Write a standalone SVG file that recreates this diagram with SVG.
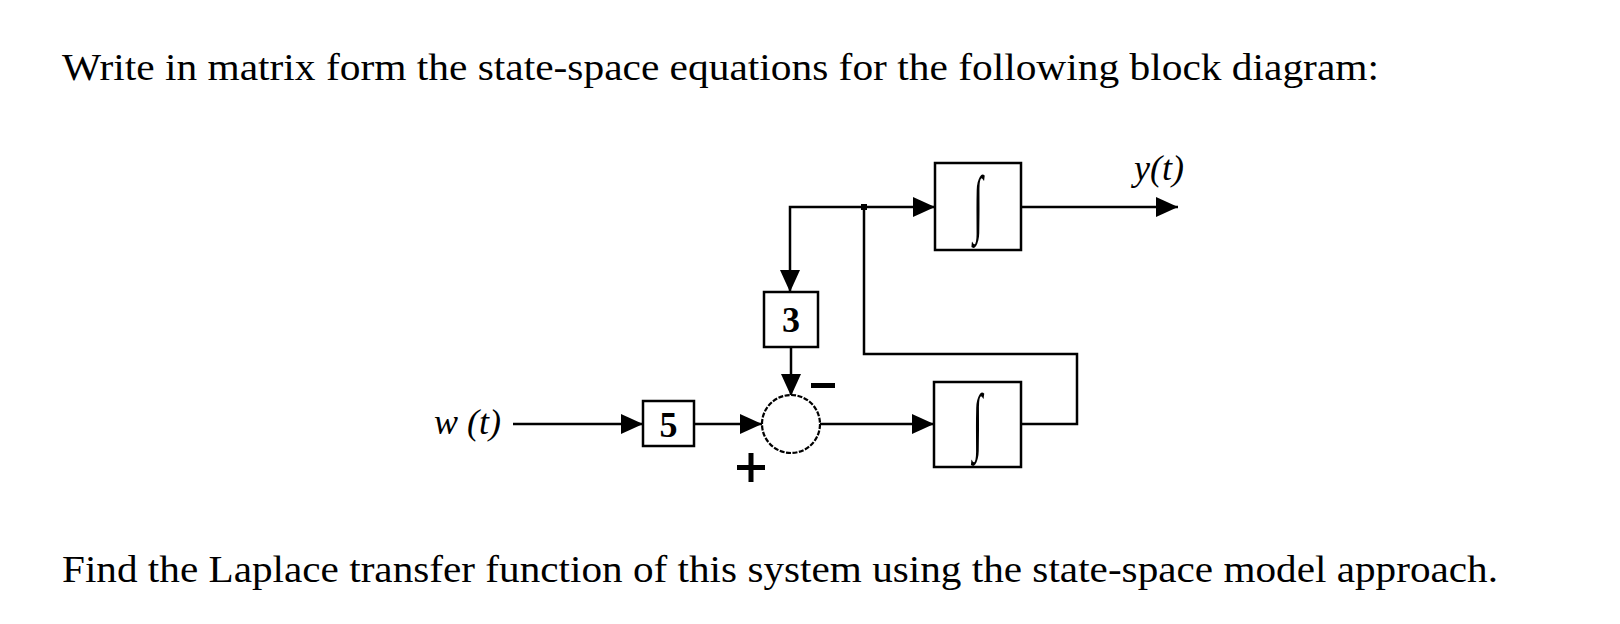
<svg xmlns="http://www.w3.org/2000/svg" width="1620" height="624" viewBox="0 0 1620 624">
<style>
.t{font-family:"Liberation Serif",serif;fill:#000}
.box{fill:#fff;stroke:#000;stroke-width:2.5}
.w{fill:none;stroke:#000;stroke-width:2.5}
.g{font-family:"Liberation Serif",serif;font-weight:bold;font-size:36px;text-anchor:middle}
.i{font-family:"Liberation Serif",serif;font-size:44px;text-anchor:middle}
</style>
<defs>
<marker id="a" markerWidth="22" markerHeight="22" refX="22" refY="11" orient="auto" markerUnits="userSpaceOnUse">
<path d="M0,1 L22,11 L0,21 Z" fill="#000"/>
</marker>
</defs>
<rect width="1620" height="624" fill="#fff"/>
<text class="t" x="62" y="80" font-size="37" textLength="1317" lengthAdjust="spacingAndGlyphs">Write in matrix form the state-space equations for the following block diagram:</text>
<text class="t" x="62" y="582" font-size="37" textLength="1436" lengthAdjust="spacingAndGlyphs">Find the Laplace transfer function of this system using the state-space model approach.</text>
<g id="connectors">
<path class="w" d="M513,424 H643" marker-end="url(#a)"/>
<path class="w" d="M694,424 H762" marker-end="url(#a)"/>
<path class="w" d="M820,424 H934" marker-end="url(#a)"/>
<path class="w" d="M1021,424 H1077 V354 H864 V207"/>
<path class="w" d="M864,207 H790 V292" marker-end="url(#a)"/>
<path class="w" d="M864,207 H935" marker-end="url(#a)"/>
<path class="w" d="M791,347 V396" marker-end="url(#a)"/>
<path class="w" d="M1021,207 H1178" marker-end="url(#a)"/>
<rect x="861" y="204" width="6" height="6" fill="#000"/>
</g>
<g id="w-label"><text class="t" x="434" y="434" font-size="36" font-style="italic">w (t)</text></g>
<g id="y-label"><text class="t" x="1134" y="180" font-size="36" font-style="italic">y(t)</text></g>
<g id="gain5"><rect class="box" x="643" y="401" width="51" height="45"/><text class="g" x="668.5" y="437">5</text></g>
<g id="gain3"><rect class="box" x="764" y="292" width="54" height="55"/><text class="g" x="791" y="332">3</text></g>
<g id="sum"><circle cx="791" cy="424" r="29" fill="#fff" stroke="#000" stroke-width="2.2" stroke-dasharray="5,1.5"/>
<rect x="811" y="383" width="24" height="5" fill="#000"/>
<rect x="737" y="465" width="28" height="5" fill="#000"/><rect x="748.5" y="453" width="5" height="29" fill="#000"/></g>
<g id="int1"><rect class="box" x="935" y="163" width="86" height="87"/><text class="i" transform="translate(978,228) scale(0.8,1.7)">∫</text></g>
<g id="int2"><rect class="box" x="934" y="382" width="87" height="85"/><text class="i" transform="translate(977.5,446) scale(0.8,1.7)">∫</text></g>
</svg>
